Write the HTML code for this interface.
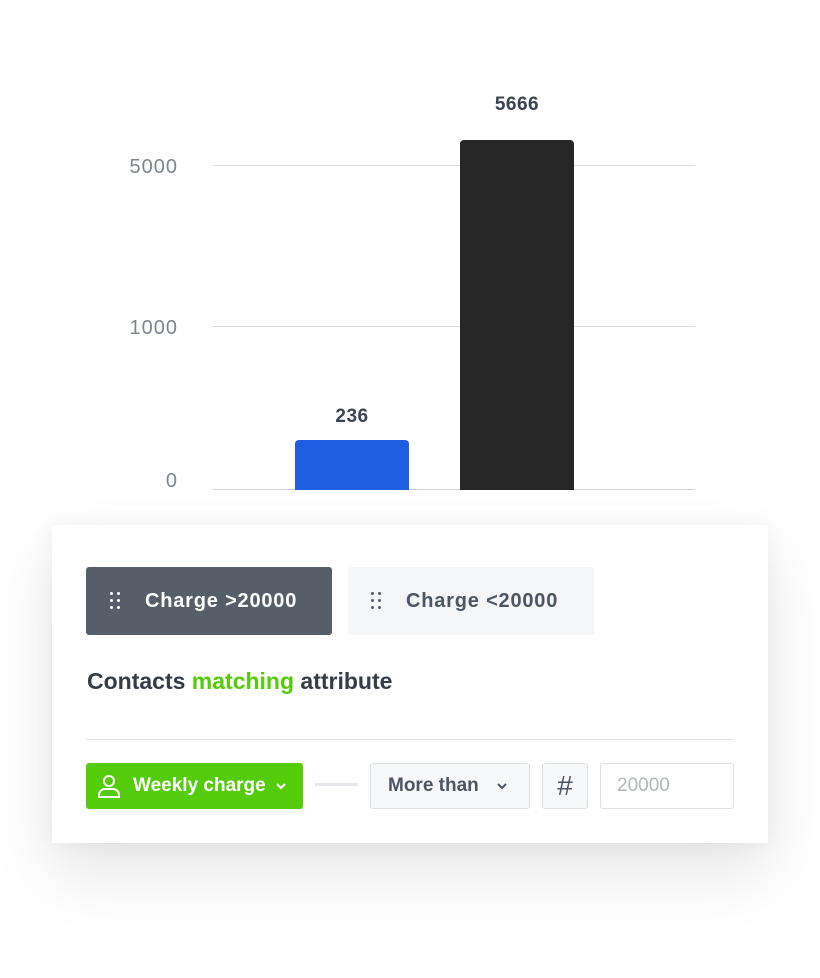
<!DOCTYPE html>
<html><head><meta charset="utf-8"><style>
*{margin:0;padding:0;box-sizing:border-box}
body{width:820px;height:978px;background:#fff;position:relative;overflow:hidden;font-family:"Liberation Sans",sans-serif}
.a{position:absolute}
.grid{position:absolute;left:213px;width:482px;height:1px;background:#d9dcdf}
.yl{position:absolute;font-size:20px;letter-spacing:1px;color:#7d858e;text-align:right;width:80px;left:98px}
.vl{position:absolute;font-size:19px;font-weight:bold;color:#3a4350;text-align:center;letter-spacing:0.5px}
.card{position:absolute;left:52px;top:525px;width:716px;height:318px;background:#fff;box-shadow:0 30px 60px rgba(0,0,0,0.10),0 0 20px rgba(0,0,0,0.05)}
.dots{position:absolute;width:12px;height:18px}
.dots i{position:absolute;width:3px;height:3px;border-radius:50%}
</style></head><body>
<div class="grid" style="top:165px"></div>
<div class="grid" style="top:326px"></div>
<div class="grid" style="top:489px;background:#cfd3d7"></div>
<div class="yl" style="top:156px">5000</div>
<div class="yl" style="top:317px">1000</div>
<div class="yl" style="top:470px">0</div>
<div class="a" style="left:295px;top:440px;width:114px;height:50px;background:#1f5ee0;border-radius:4px 4px 0 0"></div>
<div class="a" style="left:460px;top:140px;width:114px;height:350px;background:#262626;border-radius:4px 4px 0 0"></div>
<div class="vl" style="left:295px;width:114px;top:406px">236</div>
<div class="vl" style="left:460px;width:114px;top:94px">5666</div>

<div class="card"></div>
<div class="a" style="left:86px;top:567px;width:246px;height:68px;background:#555e69;border-radius:3px;color:#fff;font-size:20px;letter-spacing:0.8px;font-weight:bold;line-height:68px;padding-left:59px">Charge &gt;20000</div>
<div class="dots" style="left:110px;top:592px"><i style="left:0;top:0;background:#fff"></i><i style="left:7px;top:0;background:#fff"></i><i style="left:0;top:7px;background:#fff"></i><i style="left:7px;top:7px;background:#fff"></i><i style="left:0;top:14px;background:#fff"></i><i style="left:7px;top:14px;background:#fff"></i></div>
<div class="a" style="left:348px;top:567px;width:246px;height:68px;background:#f5f6f7;border-radius:3px;color:#4b5563;font-size:20px;letter-spacing:0.8px;font-weight:bold;line-height:68px;padding-left:58px">Charge &lt;20000</div>
<div class="dots" style="left:371px;top:592px"><i style="left:0;top:0;background:#555e69"></i><i style="left:7px;top:0;background:#555e69"></i><i style="left:0;top:7px;background:#555e69"></i><i style="left:7px;top:7px;background:#555e69"></i><i style="left:0;top:14px;background:#555e69"></i><i style="left:7px;top:14px;background:#555e69"></i></div>
<div class="a" style="left:87px;top:668px;font-size:23px;font-weight:bold;color:#343c48">Contacts <span style="color:#54cc0a">matching</span> attribute</div>
<div class="a" style="left:86px;top:739px;width:648px;height:1px;background:#e3e6e9"></div>
<div class="a" style="left:86px;top:763px;width:217px;height:46px;background:#54cc0a;border-radius:3px;color:#fff;font-size:19px;font-weight:bold;line-height:46px;padding-left:47px">Weekly charge</div>
<svg class="a" style="left:96px;top:773px" width="26" height="26" viewBox="0 0 26 26" fill="none" stroke="#fff" stroke-width="2"><circle cx="13" cy="8" r="5"/><path d="M3 24v-2a6 6 0 0 1 6-6h8a6 6 0 0 1 6 6v2z"/></svg>
<svg class="a" style="left:275px;top:781px" width="12" height="10" viewBox="0 0 12 10" fill="none" stroke="#fff" stroke-width="2"><path d="M2 3l4 4 4-4"/></svg>
<div class="a" style="left:315px;top:783px;width:43px;height:3px;background:#e5e7ea"></div>
<div class="a" style="left:370px;top:763px;width:160px;height:46px;background:#f7f8f9;border:1px solid #dde0e4;border-radius:3px;color:#4b5563;font-size:19px;font-weight:bold;line-height:44px;padding-left:17px">More than</div>
<svg class="a" style="left:496px;top:781px" width="12" height="10" viewBox="0 0 12 10" fill="none" stroke="#4b5563" stroke-width="2"><path d="M2 3l4 4 4-4"/></svg>
<div class="a" style="left:542px;top:763px;width:46px;height:46px;background:#f7f8f9;border:1px solid #dde0e4;border-radius:3px;color:#4b5563;font-size:28px;text-align:center;line-height:44px">#</div>
<div class="a" style="left:600px;top:763px;width:134px;height:46px;background:#fff;border:1px solid #dde0e4;border-radius:3px;color:#b0b6bd;font-size:19px;line-height:44px;padding-left:16px">20000</div>
</body></html>
